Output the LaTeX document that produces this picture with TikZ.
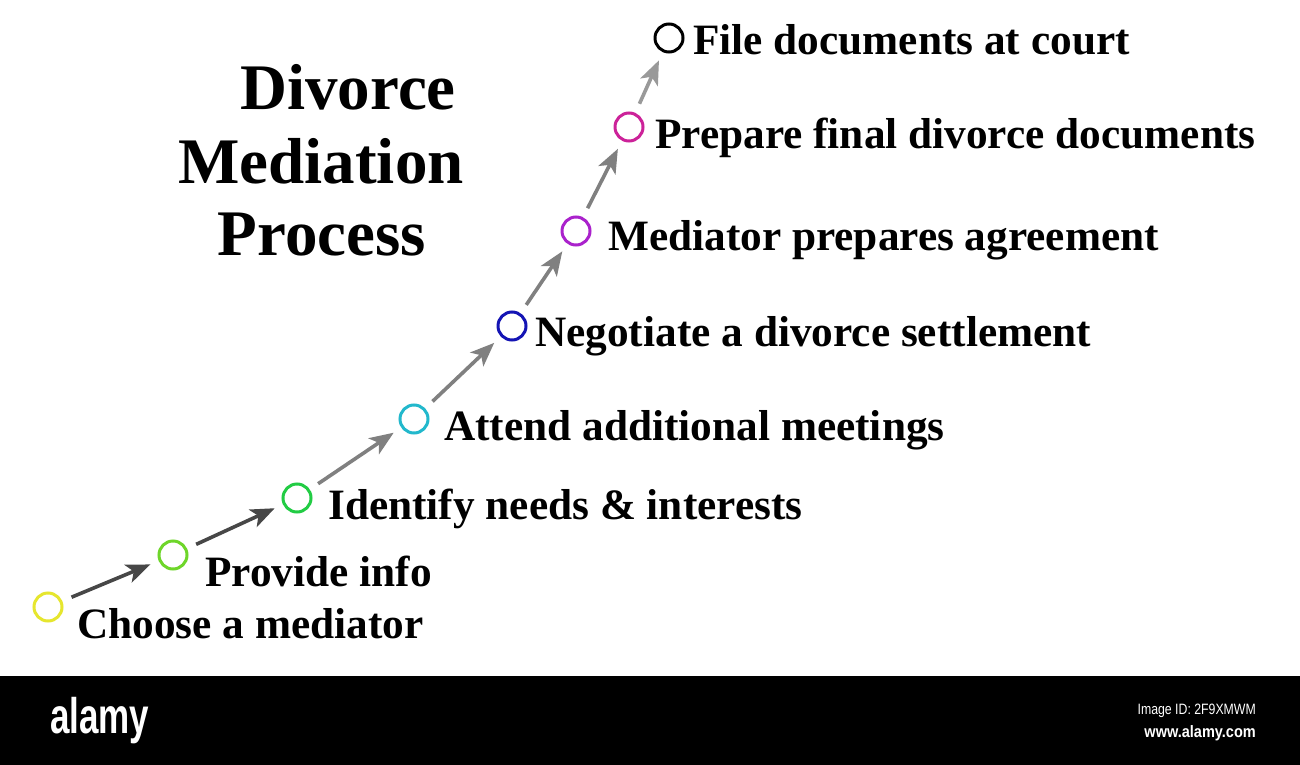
\documentclass[tikz,border=0pt]{standalone}
\usepackage{fontspec}
\setmainfont{Liberation Serif}
\setsansfont{Liberation Sans}
\usetikzlibrary{arrows.meta, positioning}

\definecolor{stepyellow}{HTML}{E6E62E}
\definecolor{steplime}{HTML}{6ED62A}
\definecolor{stepgreen}{HTML}{22CC44}
\definecolor{stepcyan}{HTML}{22B8CC}
\definecolor{stepblue}{HTML}{1414B4}
\definecolor{steppurple}{HTML}{AA22CC}
\definecolor{stepmagenta}{HTML}{CC2299}

\begin{document}
\begin{tikzpicture}[
    x=1pt, y=-1pt,
    >={Stealth[length=24pt,width=19pt,inset=6pt]},
    dot/.style={
        circle,
        draw,
        line width=3pt,
        minimum size=28pt,
        inner sep=0pt
    },
    steplabel/.style={
        anchor=base west,
        inner sep=0pt,
        font=\fontsize{43.3}{43}\selectfont\bfseries
    },
    heading/.style={
        anchor=base,
        inner sep=0pt,
        font=\fontsize{65}{65}\selectfont\bfseries
    },
    link/.style={
        ->,
        line width=3.6pt,
        shorten <=10pt,
        shorten >=9pt
    }
]
\useasboundingbox (0,0) rectangle (1300,765);
\fill[white] (0,0) rectangle (1300,676);

% title
\node[heading] (title1) at (348,110) {Divorce};
\node[heading] (title2) at (321,183) {Mediation};
\node[heading] (title3) at (322,255) {Process};

% steps
\node[dot, draw=stepyellow]  (s1) at (48,607) {};
\node[dot, draw=steplime]    (s2) at (173,555) {};
\node[dot, draw=stepgreen]   (s3) at (297,498) {};
\node[dot, draw=stepcyan]    (s4) at (414,419) {};
\node[dot, draw=stepblue]    (s5) at (512,326) {};
\node[dot, draw=steppurple]  (s6) at (576,231) {};
\node[dot, draw=stepmagenta] (s7) at (629,127) {};
\node[dot, draw=black]       (s8) at (669,38) {};

\node[steplabel] (l1) at (77,638) {Choose a mediator};
\node[steplabel] (l2) at (205,586) {Provide info};
\node[steplabel] (l3) at (328,519) {Identify needs \& interests};
\node[steplabel] (l4) at (444,440) {Attend additional meetings};
\node[steplabel] (l5) at (535,346) {Negotiate a divorce settlement};
\node[steplabel] (l6) at (608,250) {Mediator prepares agreement};
\node[steplabel] (l7) at (655,148) {Prepare final divorce documents};
\node[steplabel] (l8) at (693,55) {File documents at court};

\draw[link, black!72] (s1) -- (s2);
\draw[link, black!72] (s2) -- (s3);
\draw[link, black!50] (s3) -- (s4);
\draw[link, black!50] (s4) -- (s5);
\draw[link, black!50] (s5) -- (s6);
\draw[link, black!50] (s6) -- (s7);
\draw[link, black!40] (s7) -- (s8);

% footer band
\fill[black] (0,676) rectangle (1300,765);
\node[anchor=base west, inner sep=0pt, text=white, xscale=0.7,
      font=\sffamily\bfseries\fontsize{50}{50}\selectfont] (logo) at (50,733) {alamy};
\node[anchor=base east, inner sep=0pt, text=white, xscale=0.82,
      font=\sffamily\fontsize{15}{15}\selectfont] (imgid) at (1256,714) {Image ID: 2F9XMWM};
\node[anchor=base east, inner sep=0pt, text=white, xscale=0.88,
      font=\sffamily\bfseries\fontsize{16.5}{16}\selectfont] (site) at (1256,737) {www.alamy.com};
\end{tikzpicture}
\end{document}
